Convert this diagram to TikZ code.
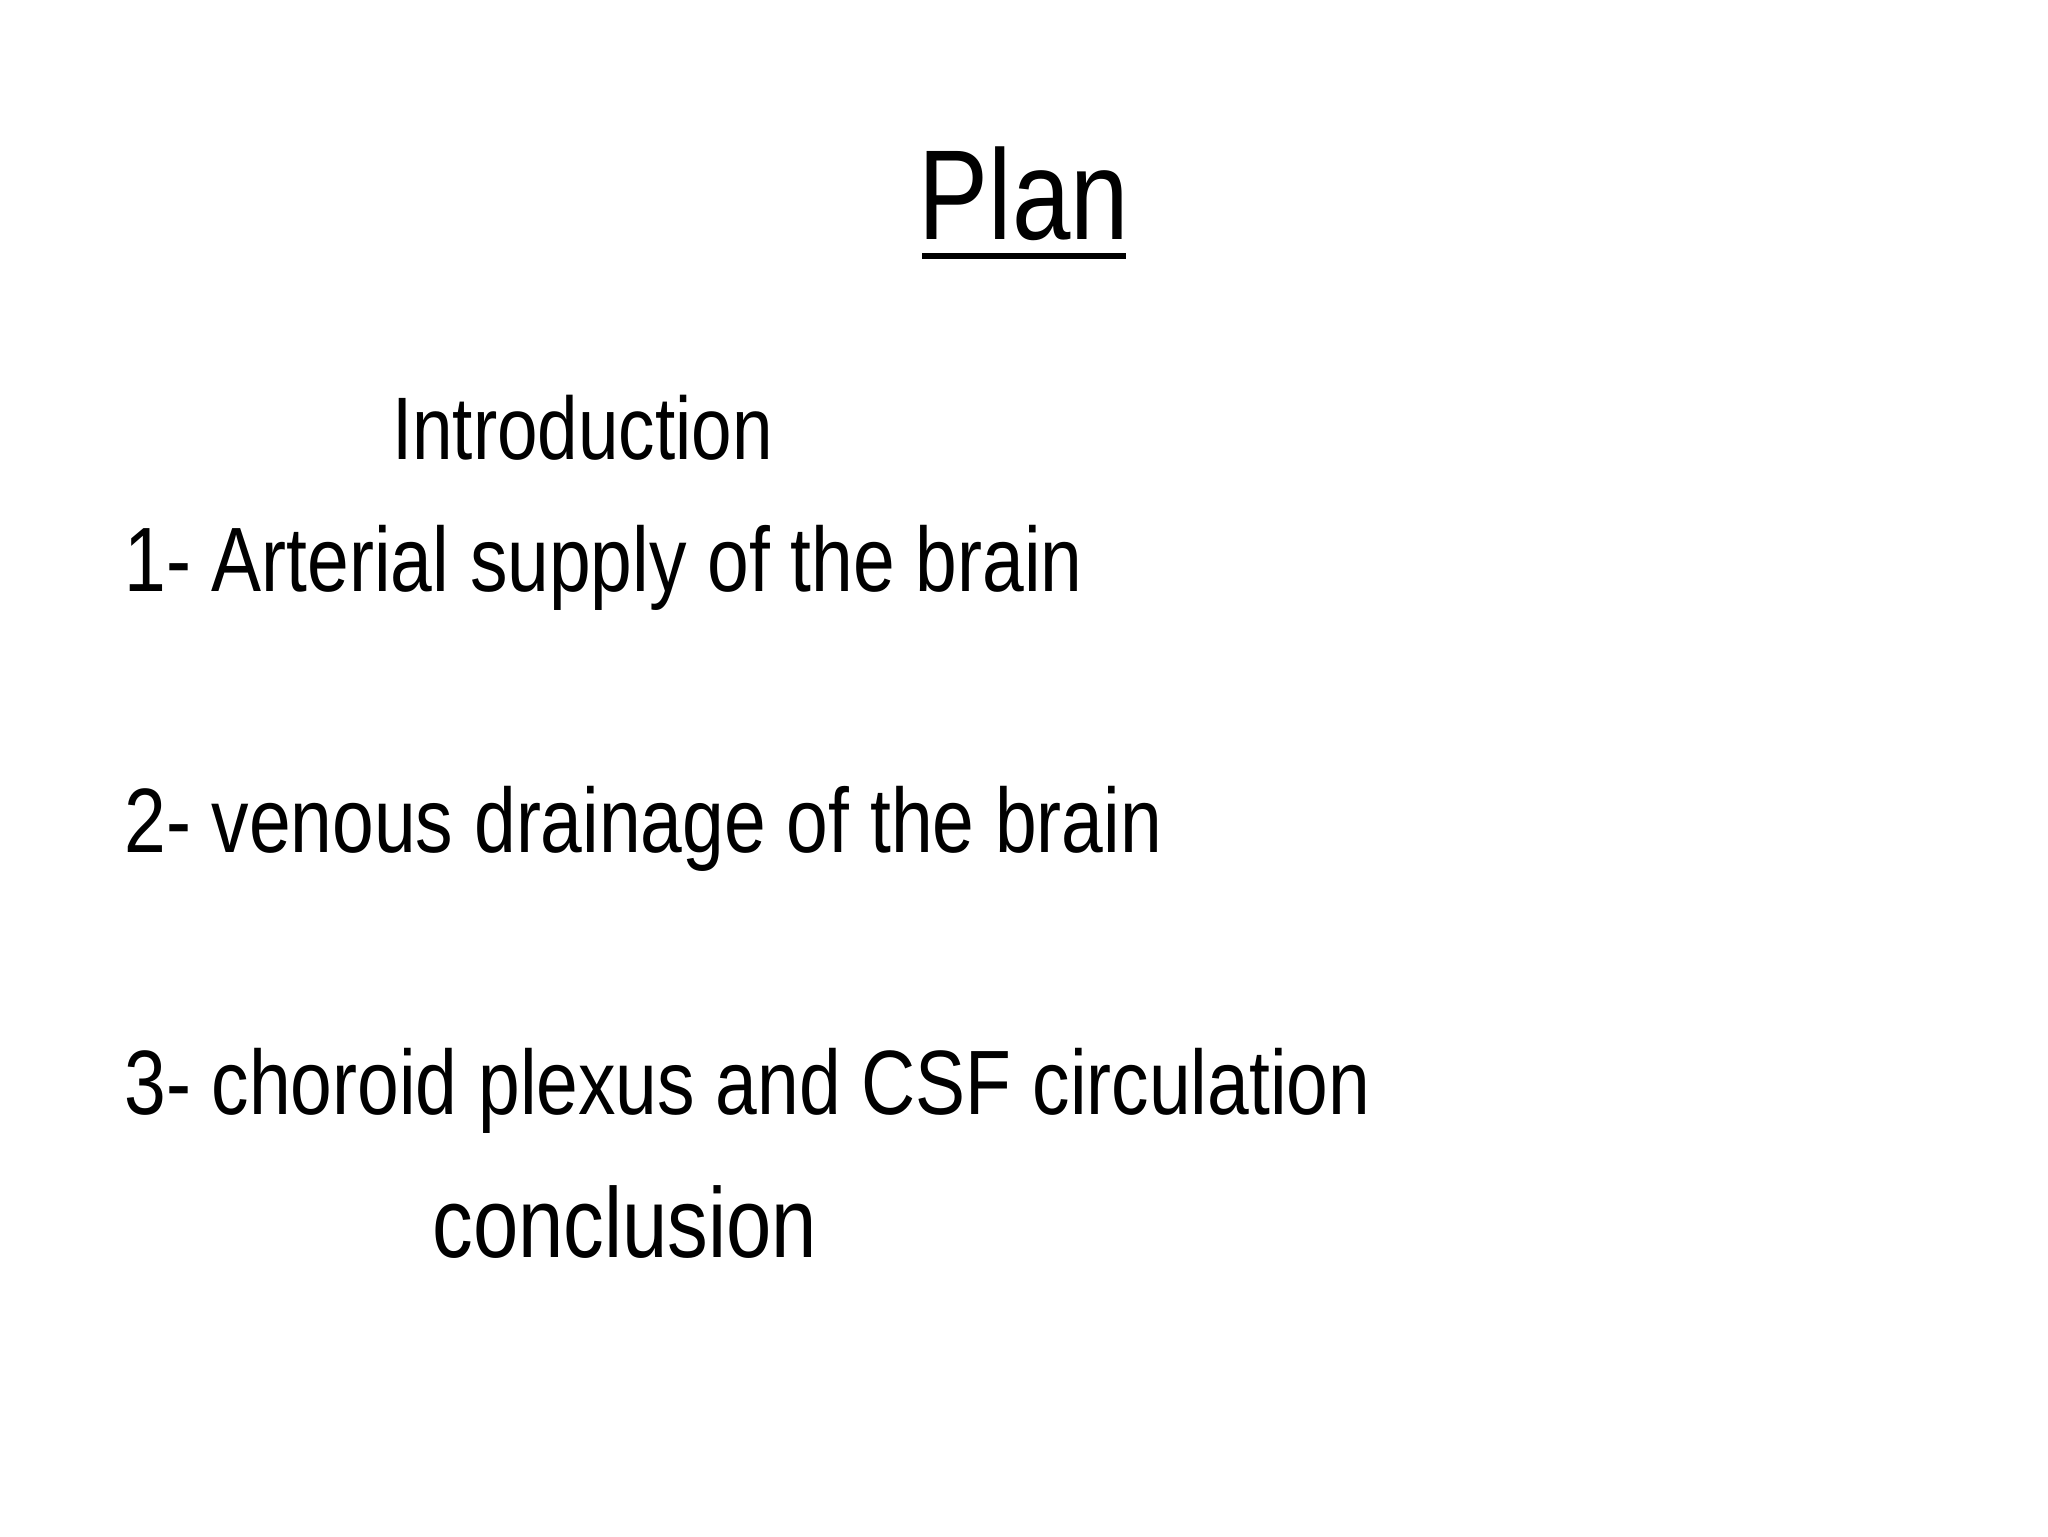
\documentclass[tikz,border=0pt]{standalone}
\usepackage{fontspec}
\setmainfont{Liberation Sans}[FakeStretch=0.82]
\begin{document}
\begin{tikzpicture}[x=1pt,y=-1pt,txt/.style={anchor=base west,inner sep=0pt,font=\fontsize{70}{80}\selectfont}]
\useasboundingbox[fill=white] (0,0) rectangle (1568,1176);
\node[anchor=base,inner sep=0pt,font=\fontsize{98}{110}\selectfont] (plan) at (784,183) {Plan};
\draw[line width=4pt] (706,196) coordinate (u1) -- (862,196) coordinate (u2);
\node[txt,font=\fontsize{68}{80}\selectfont] (intro) at (300,352) {Introduction};
\node[txt] (i1) at (95,453) {1- Arterial supply of the brain};
\node[txt] (i2) at (95,653) {2- venous drainage of the brain};
\node[txt] (i3) at (95,853) {3- choroid plexus and CSF circulation};
\node[txt,font=\fontsize{76}{86}\selectfont] (conc) at (331,963) {conclusion};
\end{tikzpicture}
\end{document}
